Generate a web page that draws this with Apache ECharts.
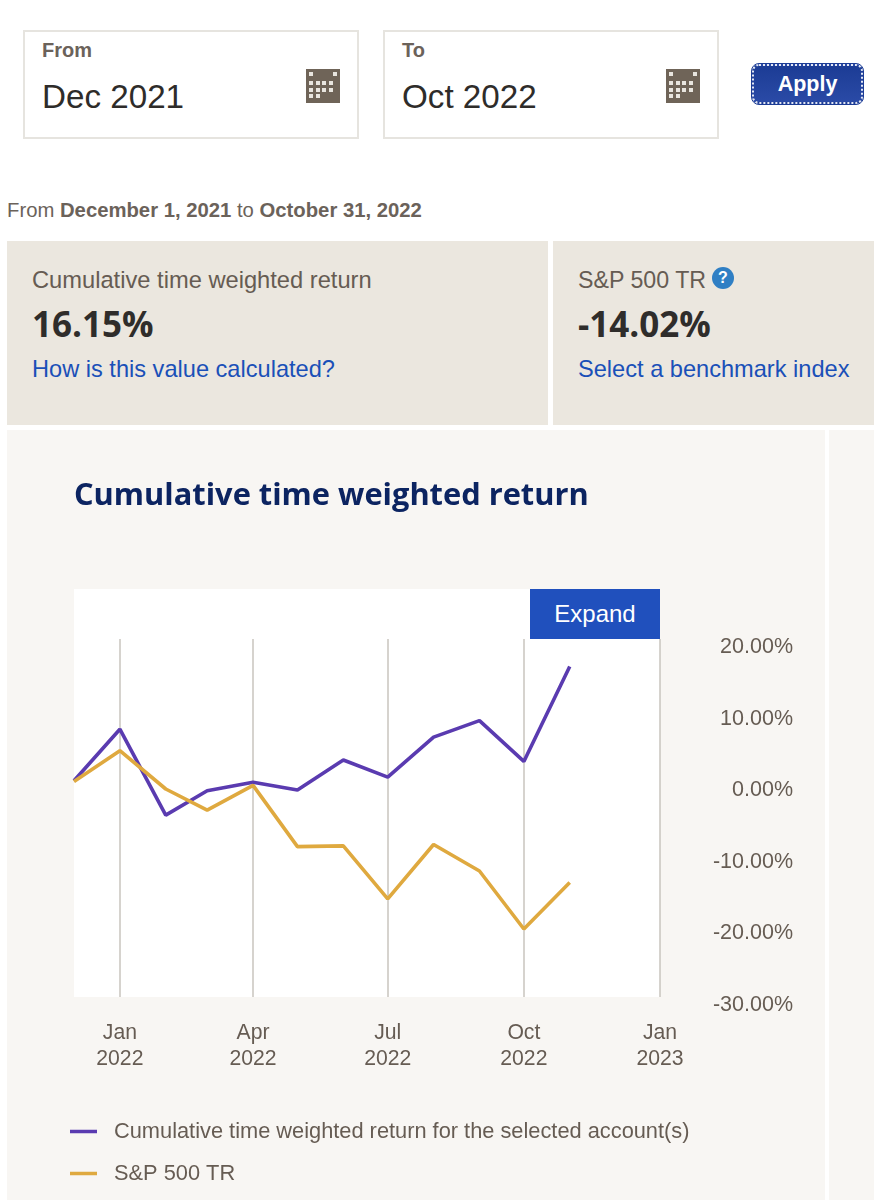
<!DOCTYPE html>
<html><head><meta charset="utf-8">
<style>
html,body{margin:0;padding:0;background:#fff;width:874px;height:1200px;overflow:hidden;font-family:"Liberation Sans",Arial,sans-serif;}
.a{position:absolute;white-space:nowrap;}
.box{position:absolute;box-sizing:border-box;background:#fff;border:2px solid #e6e4df;}
.lab{font-size:20px;font-weight:bold;color:#6b625a;}
.val{font-size:33.2px;color:#2e2c2a;}
.cal{position:absolute;width:34px;height:34px;background:#6f6458;}
.cal i{position:absolute;width:4px;height:4px;background:#e8e5df;}
.card{position:absolute;background:#ebe7df;}
.c1{font-size:23.7px;color:#665c53;}
.c2{font-size:35px;font-weight:bold;color:#2f2d2b;font-family:"Open Sans",sans-serif;}
.c3{font-size:23.6px;color:#1a50b8;}
</style></head><body>
<div class="box" style="left:23px;top:30px;width:336px;height:109px"></div>
<div class="box" style="left:383px;top:30px;width:336px;height:109px"></div>
<div class="a lab" style="left:42px;top:39px">From</div>
<div class="a lab" style="left:402px;top:39px">To</div>
<div class="a val" style="left:42px;top:78px">Dec 2021</div>
<div class="a val" style="left:402px;top:78px">Oct 2022</div>
<div class="cal" id="cal1" style="left:306px;top:69px"></div>
<div class="cal" id="cal2" style="left:666px;top:69px"></div>
<div class="a" style="left:752px;top:64px;width:111px;height:40px;border-radius:7px;background:linear-gradient(#1c3c95,#2a4aa6);box-sizing:border-box;border:2px dotted #e4e8f4;outline:1px solid #1c3c95;color:#fff;font-weight:bold;font-size:21.5px;line-height:36px;text-align:center">Apply</div>
<div class="a" style="left:7px;top:199px;font-size:20.3px;color:#6b625a">From <b>December 1, 2021</b> to <b>October 31, 2022</b></div>
<div class="card" style="left:7px;top:241px;width:541px;height:184px"></div>
<div class="card" style="left:553px;top:241px;width:321px;height:184px"></div>
<div class="a c1" style="left:32px;top:267px">Cumulative time weighted return</div>
<div class="a c2" style="left:32px;top:300px">16.15%</div>
<div class="a c3" style="left:32px;top:356px">How is this value calculated?</div>
<div class="a c1" style="left:578px;top:267px;font-size:23.2px">S&amp;P 500 TR</div>
<div class="a" style="left:712px;top:267px;width:22px;height:22px;border-radius:50%;background:#2f7fc4;color:#fff;font-weight:bold;font-size:16px;line-height:22px;text-align:center">?</div>
<div class="a c2" style="left:578px;top:300px">-14.02%</div>
<div class="a c3" style="left:578px;top:356px">Select a benchmark index</div>
<div class="a" style="left:7px;top:430px;width:818px;height:770px;background:#f8f6f3"></div>
<div class="a" style="left:829px;top:430px;width:45px;height:770px;background:#f8f6f3"></div>
<div class="a" style="left:74px;top:589px;width:586px;height:408px;background:#fff"></div>
<div id="chart" class="a" style="left:0;top:0;width:874px;height:1200px"></div>
<div class="a" style="left:530px;top:589px;width:130px;height:50px;background:#2050bd;color:#fff;font-size:24px;line-height:50px;text-align:center">Expand</div>
<script src="https://cdn.jsdelivr.net/npm/echarts@6/dist/echarts.min.js"></script>
<script>
const chartTitle = 'Cumulative time weighted return';
const months = ['2021-12-01','2022-01-01','2022-02-01','2022-03-01','2022-04-01','2022-05-01','2022-06-01','2022-07-01','2022-08-01','2022-09-01','2022-10-01','2022-11-01'];
const accountName = 'Cumulative time weighted return for the selected account(s)';
const accountValues = [0.2,7.4,-4.6,-1.2,0.0,-1.1,3.1,0.7,6.3,8.6,2.9,16.15];
const benchmarkName = 'S&P 500 TR';
const benchmarkValues = [0.1,4.4,-0.95,-3.9,-0.45,-9.0,-8.9,-16.3,-8.7,-12.4,-20.5,-14.02];
const xTicks = ['2022-01-01','2022-04-01','2022-07-01','2022-10-01','2023-01-01'];

['cal1','cal2'].forEach(id=>{
  const el=document.getElementById(id);
  const add=(x,y)=>{const i=document.createElement('i');i.style.left=x+'px';i.style.top=y+'px';el.appendChild(i);};
  add(3,3);add(27,3);
  for(let r=0;r<3;r++)for(let c=0;c<4;c++){if(r==2&&c>1)continue;add(3+c*6.6,12+r*6.5);}
});

const ts = s => new Date(s+'T00:00:00Z').getTime();
const MON=['Jan','Feb','Mar','Apr','May','Jun','Jul','Aug','Sep','Oct','Nov','Dec'];
const chart = echarts.init(document.getElementById('chart'), null, {renderer:'canvas'});
chart.setOption({
  animation:false,
  backgroundColor:'transparent',
  textStyle:{fontFamily:'"Liberation Sans",Arial,sans-serif'},
  title:{text:chartTitle,left:74,top:481,padding:0,textStyle:{fontFamily:'"Open Sans",sans-serif',fontSize:30.8,fontWeight:'bold',color:'#0c2461'}},
  legend:{
    orient:'vertical',left:70,top:1119,padding:0,icon:'rect',itemWidth:27,itemHeight:3.5,itemGap:17,
    selectedMode:false,
    textStyle:{fontSize:21.8,color:'#665c53',padding:[0,0,0,12],lineHeight:25}
  },
  grid:{left:74,right:214,top:639,bottom:203,containLabel:false},
  xAxis:{
    type:'value',scale:true,
    min:ts('2021-12-01'),max:ts('2023-01-01'),
    axisLine:{show:false},
    axisTick:{show:false,customValues:xTicks.map(ts)},
    splitLine:{show:true,lineStyle:{color:'#c9c4be',width:1.5}},
    axisLabel:{
      customValues:xTicks.map(ts),
      hideOverlap:false,showMinLabel:true,showMaxLabel:true,
      formatter:v=>{const d=new Date(v);return MON[d.getUTCMonth()]+'\n'+d.getUTCFullYear();},
      fontSize:21.2,color:'#665c53',lineHeight:26,margin:23
    }
  },
  yAxis:{
    type:'value',position:'right',min:-30,max:20,interval:10,
    axisLine:{show:false},axisTick:{show:false},splitLine:{show:false},
    axisLabel:{
      formatter:v=>v.toFixed(2)+'%',fontSize:21.5,color:'#665c53',
      align:'right',margin:133,verticalAlign:'top',lineHeight:16
    }
  },
  series:[
    {name:accountName,type:'line',showSymbol:false,symbol:'none',lineStyle:{color:'#5a3bb0',width:3.6},itemStyle:{color:'#5a3bb0'},
     data:months.map((m,i)=>[ts(m),accountValues[i]])},
    {name:benchmarkName,type:'line',showSymbol:false,symbol:'none',lineStyle:{color:'#dfa93f',width:3.6},itemStyle:{color:'#dfa93f'},
     data:months.map((m,i)=>[ts(m),benchmarkValues[i]])}
  ]
});
</script>
</body></html>
